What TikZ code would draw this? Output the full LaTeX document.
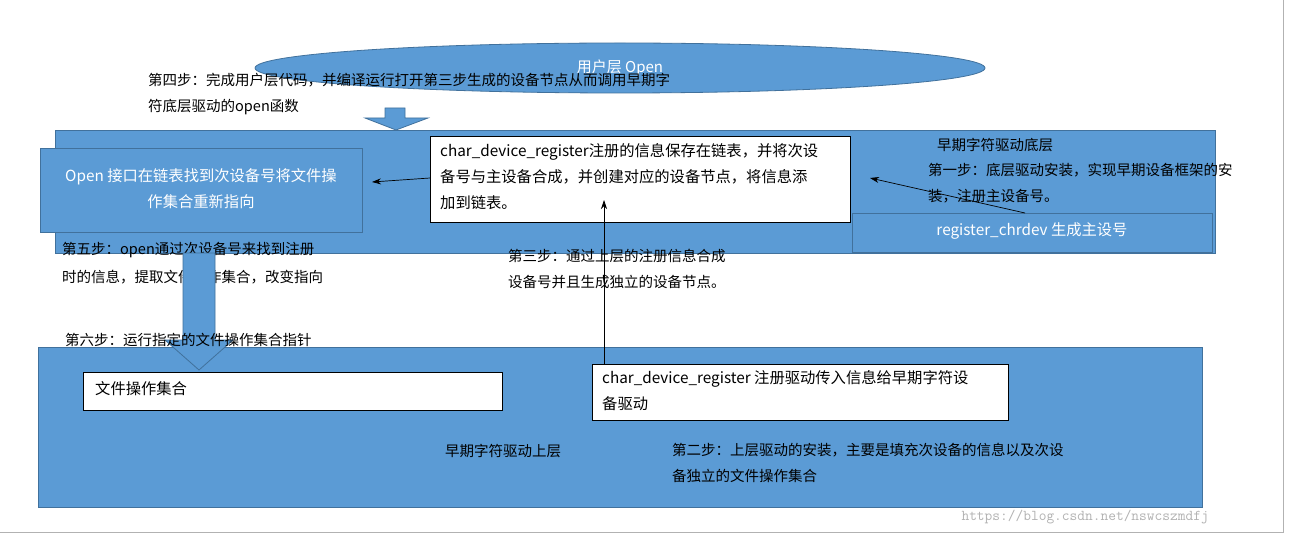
\documentclass[tikz,border=0pt]{standalone}
\usepackage{fontspec}
\setmainfont{Noto Sans CJK SC}
\usetikzlibrary{shapes.geometric,arrows.meta}
\definecolor{bl}{HTML}{5B9BD5}
\definecolor{bd}{HTML}{41719C}
\begin{document}
\begin{tikzpicture}[x=1pt,y=-1pt,
  lbl/.style={anchor=west,font=\fontsize{14.5}{16}\selectfont,inner sep=0},
  bluebox/.style={draw=bd,fill=bl,line width=0.8pt},
  whitebox/.style={draw=black,fill=white,line width=0.6pt},
  btxt/.style={font=\fontsize{15.3}{26}\selectfont,align=left,inner sep=0},
  conn/.style={-{Stealth[length=9pt,width=6pt]},line width=0.7pt}]
\useasboundingbox (0,0) rectangle (1289,537);
\fill[white] (0,0) rectangle (1289,537);
\draw[gray!60] (1283,0) -- (1283,532) -- (0,532);
% upper layer
\node[bluebox,minimum width=1160,minimum height=123,anchor=north west,inner sep=0] (up) at (55,130) {};
% lower layer
\node[bluebox,minimum width=1164,minimum height=160,anchor=north west,inner sep=0] (low) at (38,347) {};
% ellipse
\node[ellipse,bluebox,minimum width=730,minimum height=50,text=white,font=\fontsize{15}{17}\selectfont] (user) at (620,68) {用户层 Open};
\node[lbl] (s4a) at (148,80) {第四步：完成用户层代码，并编译运行打开第三步生成的设备节点从而调用早期字};
\node[lbl] (s4b) at (148,107) {符底层驱动的open函数};
% block arrow top
\draw[bluebox] (385,108) -- (405,108) -- (405,118) -- (428,118) -- (396,130) -- (365,118) -- (385,118) -- cycle;
% left box
\node[bluebox,minimum width=322,minimum height=84,anchor=north west,inner sep=0] (open) at (40,148) {};
\node[text=white,align=center,font=\fontsize{15.3}{26}\selectfont] (opent) at (201,189) {Open 接口在链表找到次设备号将文件操\\作集合重新指向};
% white upper box
\node[whitebox,minimum width=420,minimum height=86,anchor=north west,inner sep=0] (reg) at (430,136) {};
\node[btxt,anchor=north west] (regt) at (440,143) {char\_device\_register注册的信息保存在链表，并将次设\\备号与主设备合成，并创建对应的设备节点，将信息添\\加到链表。};
\node[lbl] (early) at (937,145) {早期字符驱动底层};
\node[lbl] (s1a) at (928,170) {第一步：底层驱动安装，实现早期设备框架的安};
\node[lbl] (s1b) at (928,196) {装，注册主设备号。};
\node[bluebox,minimum width=360,minimum height=39,anchor=north west,inner sep=0] (chr) at (852,213) {};
\node[text=white,font=\fontsize{15.3}{17}\selectfont] (chrt) at (1032,231) {register\_chrdev 生成主设号};
\coordinate (c1) at (870,178);
\coordinate (c2) at (372,182);
\draw[conn] (reg.west |- 0,178) -- (c2);
\draw[conn] (chr.north west -| 1025,213) -- (c1);
\node[lbl] (s5a) at (62,250) {第五步：open通过次设备号来找到注册};
\node[lbl] (s5b) at (62,277) {时的信息，提取文件操作集合，改变指向};
\node[lbl] (s3a) at (508,256) {第三步：通过上层的注册信息合成};
\node[lbl] (s3b) at (508,282) {设备号并且生成独立的设备节点。};
% big down arrow
\draw[bluebox] (183,253) -- (215,253) -- (215,340) -- (233,340) -- (199,370) -- (165,340) -- (183,340) -- cycle;
\node[lbl] (s6) at (65,340) {第六步：运行指定的文件操作集合指针};
% lower boxes
\node[whitebox,minimum width=419,minimum height=38,anchor=north west,inner sep=0] (fops) at (83,372) {};
\node[btxt,anchor=west] (fopst) at (95,389) {文件操作集合};
\node[whitebox,minimum width=416,minimum height=56,anchor=north west,inner sep=0] (drv) at (592,364) {};
\node[btxt,anchor=north west] (drvt) at (602,370) {char\_device\_register 注册驱动传入信息给早期字符设\\备驱动};
\draw[conn] (drv.north west -| 604,364) -- (604,200);
\node[lbl] (upper) at (445,451) {早期字符驱动上层};
\node[lbl] (s2a) at (672,450) {第二步：上层驱动的安装，主要是填充次设备的信息以及次设};
\node[lbl] (s2b) at (672,476) {备独立的文件操作集合};
\node[anchor=west,text=gray!60,font=\ttfamily\fontsize{15}{17}\selectfont] (wm) at (958,517) {https://blog.csdn.net/nswcszmdfj};
\end{tikzpicture}
\end{document}
